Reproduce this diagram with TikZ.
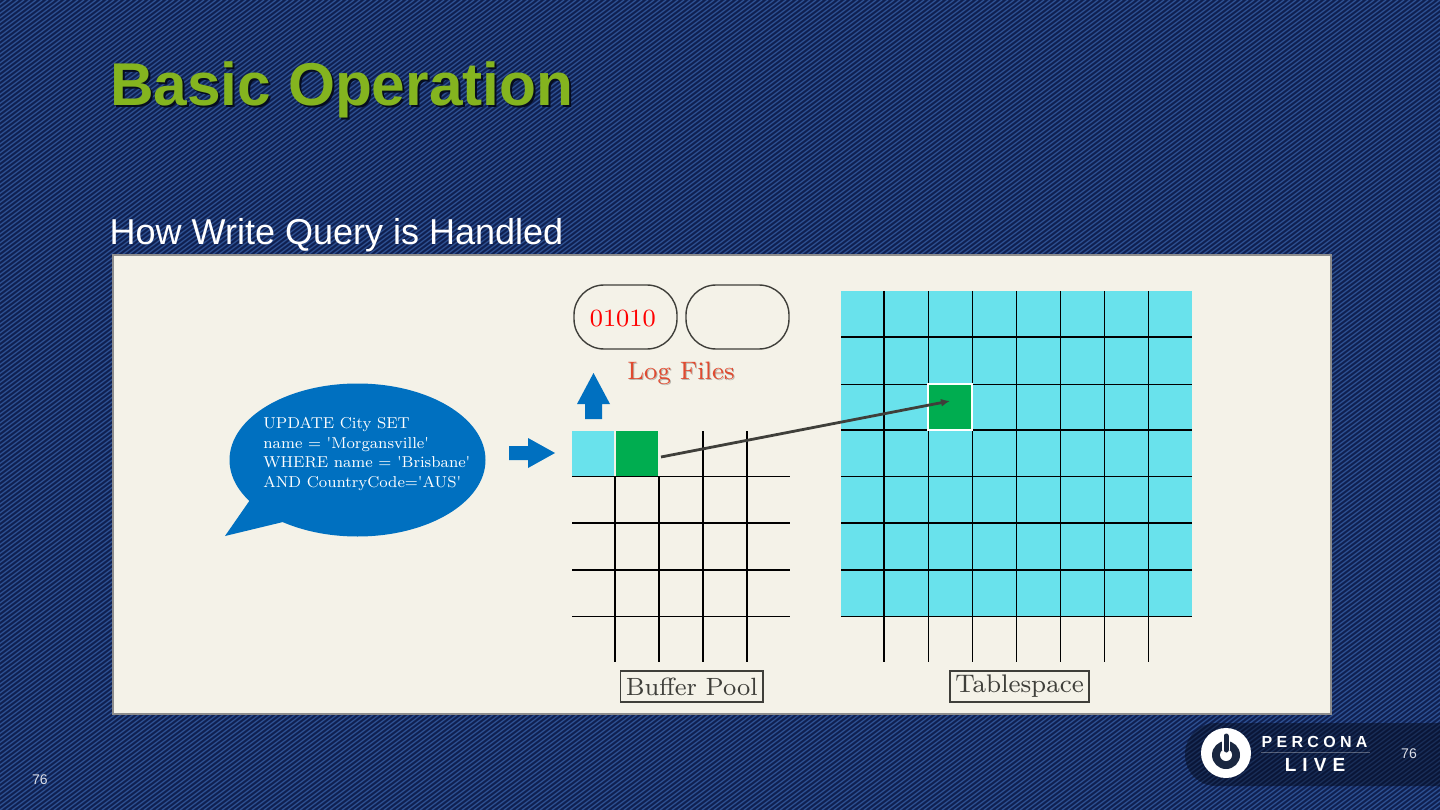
\documentclass[tikz,border=0pt]{standalone}
\usetikzlibrary{arrows.meta}
\usepackage{graphicx}
\usepackage{fontspec}
\setsansfont{Liberation Sans}
\newfontfamily\plainserif{lmroman8-regular}[Extension=.otf]
\definecolor{navy}{HTML}{132C66}
\definecolor{stripelight}{HTML}{2F5190}
\definecolor{stripedark}{HTML}{101F4E}
\definecolor{panel}{HTML}{F4F2E8}
\definecolor{cyancell}{HTML}{69E2EC}
\definecolor{greencell}{HTML}{00AD50}
\definecolor{bluefill}{HTML}{0070C0}
\definecolor{titlegreen}{HTML}{84B41F}
\definecolor{logdark}{HTML}{1A2740}
\definecolor{inkgray}{HTML}{3F3F3A}
\definecolor{logred}{HTML}{E04A30}
\newcommand{\serif}[2]{\scalebox{#1}{\fontsize{8}{9.4}\selectfont #2}}
\tikzset{
  x=1pt,y=-1pt,
  thin grid/.style={black,line width=1pt},
  thick grid/.style={black,line width=1.9pt},
  caption box/.style={draw=inkgray,line width=1.4pt,text=inkgray,inner sep=0pt},
  log file/.style={draw=inkgray,line width=1.4pt,rounded corners=30pt},
  sans white/.style={font=\sffamily,text=white,inner sep=0pt},
  page number/.style={font=\sffamily\fontsize{14}{14}\selectfont,text=white!85!navy,inner sep=0pt},
}
\begin{document}
\begin{tikzpicture}
\useasboundingbox (0,0) rectangle (1440,810);
% textured background
\fill[navy] (0,0) rectangle (1440,810);
\begin{scope}
\clip (0,0) rectangle (1440,810);
\foreach \i in {-200,...,250}{
  \draw[stripelight,line width=1.1pt] (\i*6,810) -- ++(1080,-810);
  \draw[stripedark,line width=1.3pt] (\i*6+3,810) -- ++(1080,-810);
}
\end{scope}
% title
\node[sans white,anchor=base west,text=black!70!navy] (titleshadow) at (112,107.5) {\fontsize{60.4}{60}\selectfont\bfseries Basic Operation};
\node[sans white,anchor=base west,text=titlegreen] (title) at (110,105.5) {\fontsize{60.4}{60}\selectfont\bfseries Basic Operation};
\node[sans white,anchor=base west] (subtitle) at (109.5,245) {\fontsize{36}{36}\selectfont How Write Query is Handled};
% panel
\fill[panel,draw=white!55!black,line width=2pt] (113,255) rectangle (1331,714);
% speech bubble
\fill[bluefill] (357.5,460) ellipse [x radius=128,y radius=76.5];
\fill[bluefill] (250,500) -- (225,536) -- (283,522) -- cycle;
\node[anchor=west,inner sep=0pt,text=white,align=left,font=\plainserif\fontsize{8}{9.95}\selectfont,scale=1.97] (query) at (263,454) {UPDATE City SET\\name = 'Morgansville'\\WHERE name = 'Brisbane'\\AND CountryCode='AUS'};
% block arrows
\fill[bluefill] (509,446) -- (528,446) -- (528,438) -- (555,453) -- (528,468) -- (528,460) -- (509,460) -- cycle;
\fill[bluefill] (585,419) -- (585,404) -- (577,404) -- (593.5,373) -- (610,404) -- (602,404) -- (602,419) -- cycle;
% log files
\node[log file,minimum width=103pt,minimum height=64pt] (log1) at (625.5,317) {};
\node[log file,minimum width=103pt,minimum height=64pt] (log2) at (737.5,317) {};
\node[text=red,inner sep=0pt] (bits) at (622.8,319) {\serif{3.1}{01010}};
\node[text=black!25!panel,inner sep=0pt] (logshadow) at (682,374) {\serif{3.15}{Log Files}};
\node[text=logred,inner sep=0pt] (loglabel) at (681,373) {\serif{3.15}{Log Files}};
% buffer pool cells
\fill[cyancell] (572,431) rectangle (614,476);
\fill[greencell] (616,431) rectangle (658,476);
\foreach \y/\s in {476/thin grid,523/thick grid,570/thick grid,616/thin grid}
  \draw[\s] (572,\y) -- (790,\y);
\foreach \x in {615,659}
  \draw[thick grid] (\x,476) -- (\x,662);
\foreach \x in {703,747}
  \draw[thick grid] (\x,431) -- (\x,662);
% tablespace
\fill[cyancell] (841,291) rectangle (1192,616);
\foreach \y/\s in {337/thick grid,384/thin grid,430/thick grid,476/thin grid,523/thick grid,570/thick grid,616/thin grid}
  \draw[\s] (841,\y) -- (1192,\y);
\foreach \x/\s in {884/thick grid,928/thin grid,972/thin grid,1016/thin grid,1060/thin grid,1104/thin grid,1148/thin grid}
  \draw[\s] (\x,291) -- (\x,662);
\node[fill=greencell,draw=white,line width=1.2pt,minimum width=44pt,minimum height=46pt,inner sep=0pt] (target) at (950,407) {};
% connector
\coordinate (src) at (661,457);
\coordinate (dst) at (950,401);
\draw[-{Latex[length=9pt,width=8pt]},draw=inkgray,fill=inkgray,line width=2.8pt] (src) -- (dst);
% captions
\node[caption box,minimum width=142.5pt,minimum height=31pt] (bufcap) at (691.7,686.5) {\raisebox{-2pt}{\serif{3.12}{Buffer Pool}}};
\node[caption box,minimum width=139pt,minimum height=31pt] (tblcap) at (1019.5,686.5) {\raisebox{-3pt}{\serif{3.18}{Tablespace}}};
% logo
\fill[black!70!navy,opacity=0.5,rounded corners=31pt] (1185,723) rectangle (1500,786);
\fill[white] (1226,753) circle (25);
\fill[logdark] (1226,755) circle (14);
\fill[white] (1226,755) circle (6);
\draw[white,line width=8pt] (1226,740) -- (1226,750);
\draw[logdark,line width=5pt,line cap=round] (1226,736) -- (1226,750);
\draw[white,opacity=0.3,line width=0.5pt] (1261,752) -- (1370,752);
\node[sans white,font=\sffamily\bfseries\fontsize{16}{16}\selectfont] (percona) at (1314.5,742) {\addfontfeatures{LetterSpace=27}PERCONA};
\node[sans white,font=\sffamily\bfseries\fontsize{19}{19}\selectfont] (live) at (1315,765) {\addfontfeatures{LetterSpace=32}LIVE};
\node[page number] (pn1) at (40,780) {76};
\node[page number] (pn2) at (1409,754) {76};
\end{tikzpicture}
\end{document}
